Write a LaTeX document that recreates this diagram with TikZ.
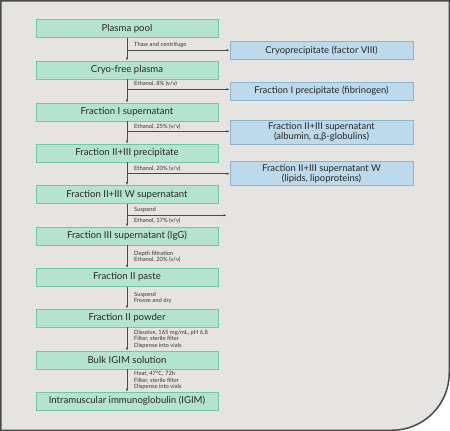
\documentclass[tikz,border=0pt]{standalone}
\usepackage{fontspec}
\setmainfont{Lato}
\usetikzlibrary{arrows.meta}
\definecolor{bgc}{HTML}{E6E4E0}
\definecolor{bordc}{HTML}{4A4A4A}
\definecolor{gfill}{HTML}{B4E4D0}
\definecolor{gline}{HTML}{6FC6AA}
\definecolor{bfill}{HTML}{BDDAEC}
\definecolor{bline}{HTML}{8EB3CF}
\definecolor{arrc}{HTML}{4A4A4A}
\tikzset{
  mainbox/.style={draw=gline, fill=gfill, line width=0.8pt, minimum width=182pt, minimum height=18pt, inner sep=0pt, font=\fontsize{9.6}{10}\selectfont, text=black!85},
  sidebox/.style={draw=bline, fill=bfill, line width=0.8pt, minimum width=183pt, minimum height=18pt, inner sep=0pt, align=center, font=\fontsize{9.4}{10.2}\selectfont, text=black!85},
  flow/.style={draw=arrc, line width=0.5pt, -{Latex[length=3pt,width=2.4pt]}},
  steplabel/.style={font=\fontsize{5.8}{6.6}\selectfont, text=black!80, anchor=west, align=left, inner sep=0pt},
}
\begin{document}
\begin{tikzpicture}[x=1pt,y=-1pt]
\useasboundingbox (0,0) rectangle (450,431);
\path[fill=bgc, draw=bordc, line width=1.5pt] (0.75,0.75) -- (449.25,0.75) -- (449.25,373) .. controls (449.25,404.6) and (423.6,430.25) .. (392,430.25) -- (0.75,430.25) -- cycle;

% main column
\node[mainbox] (m1) at (127,28.5) {Plasma pool};
\node[mainbox] (m2) at (127,70) {Cryo-free plasma};
\node[mainbox] (m3) at (127,112) {Fraction I supernatant};
\node[mainbox] (m4) at (127,153) {Fraction II+III precipitate};
\node[mainbox] (m5) at (127,194.5) {Fraction II+III W supernatant};
\node[mainbox] (m6) at (127,236) {Fraction III supernatant (IgG)};
\node[mainbox] (m7) at (127,277.3) {Fraction II paste};
\node[mainbox] (m8) at (127,318) {Fraction II powder};
\node[mainbox] (m9) at (127,360) {Bulk IGIM solution};
\node[mainbox] (m10) at (127,401) {Intramuscular immunoglobulin (IGIM)};

% side column
\node[sidebox] (s1) at (321.5,50.2) {Cryoprecipitate (factor VIII)};
\node[sidebox] (s2) at (321.5,91.2) {Fraction I precipitate (fibrinogen)};
\node[sidebox, minimum height=24.5pt] (s3) at (321.5,132.2) {Fraction II+III supernatant\\(albumin, α,β-globulins)};
\node[sidebox, minimum height=24pt] (s4) at (321.5,173.8) {Fraction II+III supernatant W\\(lipids, lipoproteins)};

% vertical flow
\foreach \a/\b in {m1/m2,m2/m3,m3/m4,m4/m5,m5/m6,m6/m7,m7/m8,m8/m9,m9/m10}
  \draw[flow] (\a.south) -- (\b.north);

% branch points
\coordinate (b1) at (127,50.2);
\coordinate (b2) at (127,89.3);
\coordinate (b3) at (127,131.3);
\coordinate (b4) at (127,173.7);
\coordinate (b5) at (127,215.3);
\coordinate (e5) at (226.5,215.3);

\draw[flow] (b1) -- (s1.west);
\draw[flow] (b2) -- (b2 -| s2.west);
\draw[flow] (b3) -- (b3 -| s3.west);
\draw[flow] (b4) -- (b4 -| s4.west);
\draw[flow] (b5) -- (e5);

% labels
\node[steplabel] (l1) at (134,44.6) {Thaw and centrifuge};
\node[steplabel] (l2) at (134,84) {Ethanol, 8\% (v/v)};
\node[steplabel] (l3) at (134,126.2) {Ethanol, 25\% (v/v)};
\node[steplabel] (l4) at (134,168.5) {Ethanol, 20\% (v/v)};
\node[steplabel] (l5a) at (134,209.6) {Suspend};
\node[steplabel] (l5b) at (134,220.5) {Ethanol, 17\% (v/v)};
\node[steplabel] (l6) at (134,256.8) {Depth filtration\\Ethanol, 20\% (v/v)};
\node[steplabel] (l7) at (134,298) {Suspend\\Freeze and dry};
\node[steplabel] (l8) at (134,339) {Dissolve, 165 mg/mL, pH 6.8\\Filter, sterile filter\\Dispense into vials};
\node[steplabel] (l9) at (134,380.5) {Heat, 47°C, 72h\\Filter, sterile filter\\Dispense into vials};
\end{tikzpicture}
\end{document}
